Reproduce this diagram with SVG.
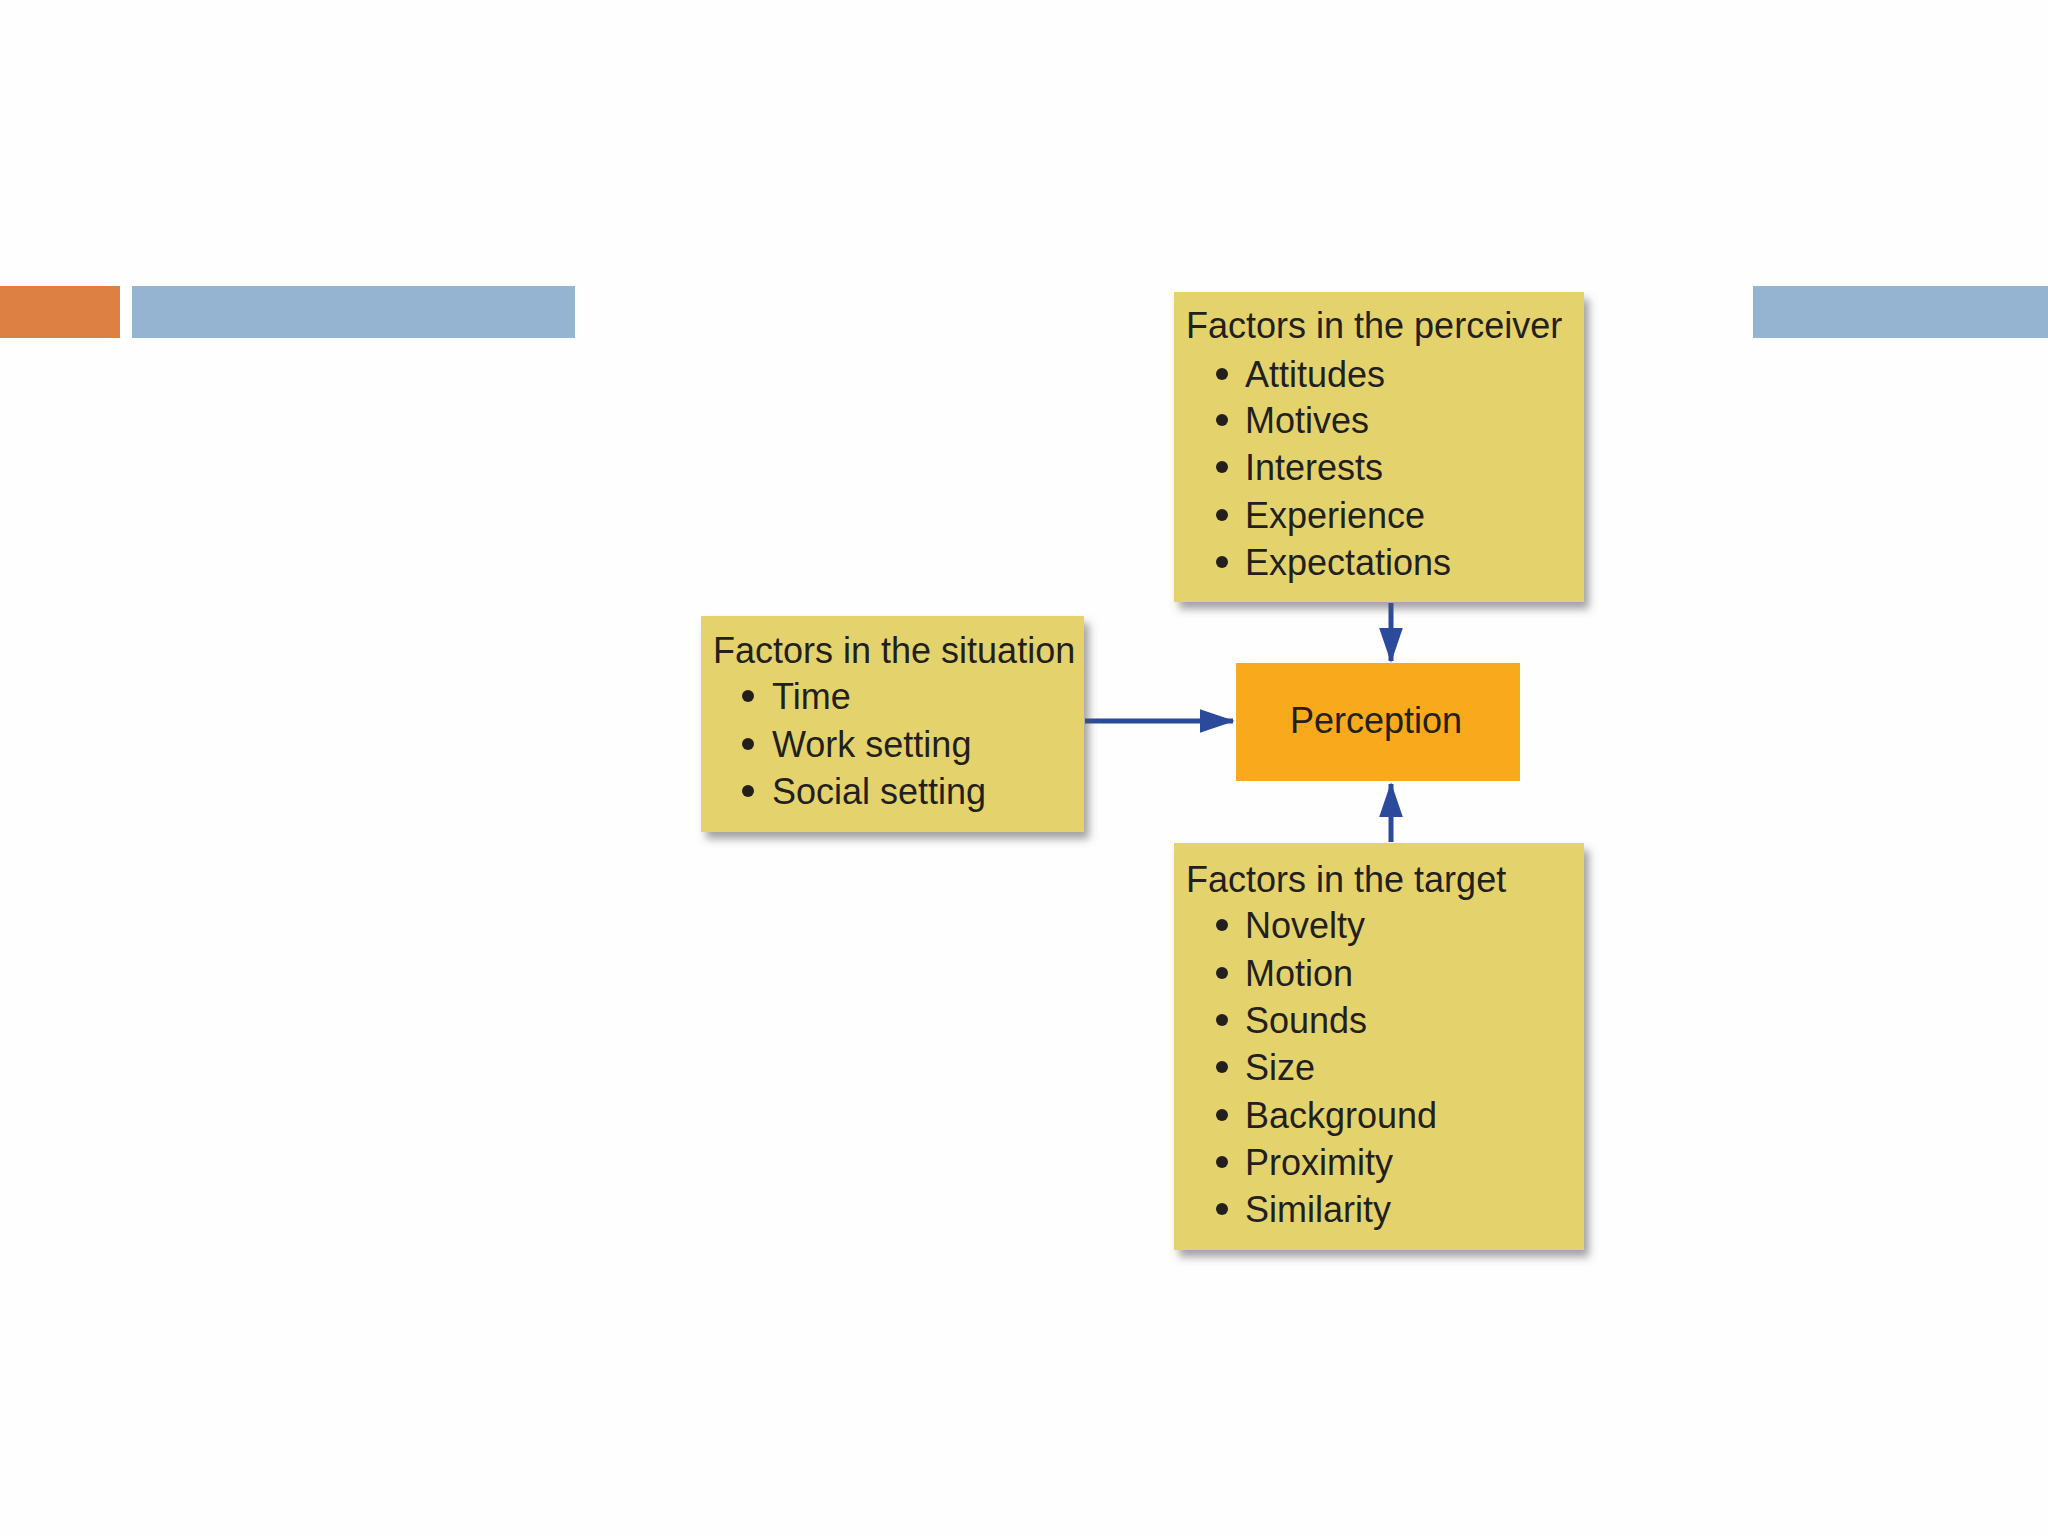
<svg xmlns="http://www.w3.org/2000/svg" width="2048" height="1536" viewBox="0 0 2048 1536">
<defs>
<filter id="sh" x="-10%" y="-10%" width="125%" height="125%">
<feDropShadow dx="5" dy="7" stdDeviation="4" flood-color="#555" flood-opacity="0.55"/>
</filter>
<marker id="ah" viewBox="0 0 10 10" refX="9.5" refY="5" markerWidth="7" markerHeight="7" orient="auto" markerUnits="strokeWidth">
<path d="M0,1.6 L10,5 L0,8.4 Z" fill="#2c4a9c"/>
</marker>
</defs>
<style>
.box{fill:#e4d36c;filter:url(#sh)}
.t{font-family:"Liberation Sans",Arial,sans-serif;font-size:36px;fill:#231f1c}
.b{fill:#231f1c}
.c{stroke:#2c4a9c;stroke-width:5;fill:none;marker-end:url(#ah)}
</style>
<rect width="2048" height="1536" fill="#fefefe"/>
<g id="bars">
<rect x="0" y="286" width="120" height="52" fill="#dd8043"/>
<rect x="132" y="286" width="443" height="52" fill="#94b4d2"/>
<rect x="1753" y="286" width="295" height="52" fill="#94b4d2"/>
</g>
<g id="connectors">
<line class="c" x1="1085" y1="721" x2="1233" y2="721"/>
<line class="c" x1="1391" y1="603" x2="1391" y2="661"/>
<line class="c" x1="1391" y1="842" x2="1391" y2="784"/>
</g>
<g id="perceiver">
<rect class="box" x="1174" y="292" width="410" height="310"/>
<text class="t" x="1186" y="338">Factors in the perceiver</text>
<circle class="b" cx="1222" cy="374" r="6"/><text class="t" x="1245" y="387">Attitudes</text>
<circle class="b" cx="1222" cy="420" r="6"/><text class="t" x="1245" y="433">Motives</text>
<circle class="b" cx="1222" cy="467" r="6"/><text class="t" x="1245" y="480">Interests</text>
<circle class="b" cx="1222" cy="515" r="6"/><text class="t" x="1245" y="528">Experience</text>
<circle class="b" cx="1222" cy="562" r="6"/><text class="t" x="1245" y="575">Expectations</text>
</g>
<g id="situation">
<rect class="box" x="701" y="616" width="383" height="216"/>
<text class="t" x="713" y="663">Factors in the situation</text>
<circle class="b" cx="748" cy="696" r="6"/><text class="t" x="772" y="709">Time</text>
<circle class="b" cx="748" cy="744" r="6"/><text class="t" x="772" y="757">Work setting</text>
<circle class="b" cx="748" cy="791" r="6"/><text class="t" x="772" y="804">Social setting</text>
</g>
<g id="perception">
<rect x="1236" y="663" width="284" height="118" fill="#f8aa1c"/>
<text class="t" x="1376" y="733" text-anchor="middle">Perception</text>
</g>
<g id="target">
<rect class="box" x="1174" y="843" width="410" height="407"/>
<text class="t" x="1186" y="892">Factors in the target</text>
<circle class="b" cx="1222" cy="925" r="6"/><text class="t" x="1245" y="938">Novelty</text>
<circle class="b" cx="1222" cy="973" r="6"/><text class="t" x="1245" y="986">Motion</text>
<circle class="b" cx="1222" cy="1020" r="6"/><text class="t" x="1245" y="1033">Sounds</text>
<circle class="b" cx="1222" cy="1067" r="6"/><text class="t" x="1245" y="1080">Size</text>
<circle class="b" cx="1222" cy="1115" r="6"/><text class="t" x="1245" y="1128">Background</text>
<circle class="b" cx="1222" cy="1162" r="6"/><text class="t" x="1245" y="1175">Proximity</text>
<circle class="b" cx="1222" cy="1209" r="6"/><text class="t" x="1245" y="1222">Similarity</text>
</g>
</svg>
